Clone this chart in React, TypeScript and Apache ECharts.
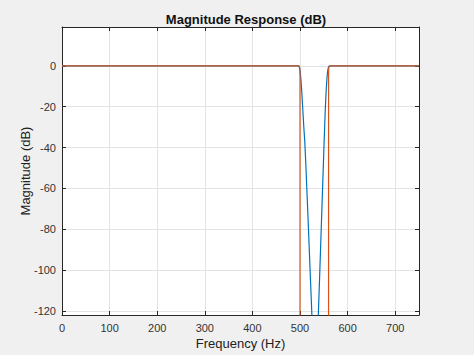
import React, { useEffect, useRef } from "react";
import * as echarts from "echarts";

const titleText = "Magnitude Response (dB)";
const xName = "Frequency (Hz)";
const yName = "Magnitude (dB)";

// Designed filter (blue): [frequency Hz, magnitude dB]
const filterFreq = [0, 490, 497, 499, 500.5, 502, 503.5, 506, 508, 510, 512, 515, 518, 521, 525, 528, 532, 536, 538.5, 542, 546, 550, 553, 555, 557, 558.5, 560, 562, 565, 750];
const filterMag = [0, 0, 0, -1, -3, -7, -12, -22, -30, -37, -47, -64, -81, -99, -122, -140, -150, -140, -122, -98, -70, -42, -22, -12, -5, -2, -0.5, -0.1, 0, 0];

// Ideal response (red)
const idealFreq = [0, 498, 499.5, 500, 500, 560, 560, 560.5, 562, 750];
const idealMag = [0, 0, -1, -4, -300, -300, -4, -1, 0, 0];

const xMin = 0;
const xMax = 750;
const xInterval = 100;
const yMin = -122;
const yMax = 19;

const font = "'Liberation Sans', Arial, Helvetica, sans-serif";
const axisColor = "#262626";
const textColor = "#333333";
const gridColor = "#e3e3e3";

export default function App() {
  const ref = useRef<HTMLDivElement>(null);
  useEffect(() => {
    if (!ref.current) return;
    const chart = echarts.init(ref.current, undefined, { renderer: "svg" });
    const blue = filterFreq.map((f, i) => [f, filterMag[i]]);
    const red = idealFreq.map((f, i) => [f, idealMag[i]]);
    const commonX = {
      type: "value" as const,
      min: xMin,
      max: xMax,
      interval: xInterval,
      axisLine: { show: true, onZero: false, lineStyle: { color: axisColor, width: 1 } },
      axisTick: { show: true, inside: true, length: 4, lineStyle: { color: axisColor } },
    };
    const commonY = {
      type: "value" as const,
      min: yMin,
      max: yMax,
      splitNumber: 7,
      axisLine: { show: true, onZero: false, lineStyle: { color: axisColor, width: 1 } },
      axisTick: { show: true, inside: true, length: 4, lineStyle: { color: axisColor } },
    };
    chart.setOption({
      animation: false,
      backgroundColor: "#f0f0f0",
      textStyle: { fontFamily: font },
      title: {
        text: titleText,
        left: 241,
        top: 8,
        textAlign: "center",
        textStyle: { fontFamily: font, fontSize: 13, fontWeight: "bold", color: "#111" },
      },
      grid: {
        left: 62,
        right: 55,
        top: 27,
        bottom: 40,
        show: true,
        backgroundColor: "#ffffff",
        borderWidth: 0,
      },
      xAxis: [
        {
          ...commonX,
          position: "bottom",
          name: xName,
          nameLocation: "middle",
          nameGap: 22,
          nameMoveOverlap: false,
          nameTextStyle: { fontFamily: font, fontSize: 13, color: "#222" },
          axisLabel: {
            show: true,
            showMaxLabel: false,
            margin: 7,
            fontFamily: font,
            fontSize: 11,
            color: textColor,
          },
          splitLine: { show: true, lineStyle: { color: gridColor, width: 1 } },
        },
        {
          ...commonX,
          position: "top",
          axisLabel: { show: false },
          splitLine: { show: false },
        },
      ],
      yAxis: [
        {
          ...commonY,
          position: "left",
          name: yName,
          nameLocation: "middle",
          nameGap: 30,
          nameMoveOverlap: false,
          nameTextStyle: { fontFamily: font, fontSize: 13, color: "#222" },
          axisLabel: {
            show: true,
            showMinLabel: false,
            showMaxLabel: false,
            margin: 6,
            fontFamily: font,
            fontSize: 11,
            color: textColor,
          },
          splitLine: { show: true, lineStyle: { color: gridColor, width: 1 } },
        },
        {
          ...commonY,
          position: "right",
          axisLabel: { show: false },
          splitLine: { show: false },
        },
      ],
      series: [
        {
          type: "line",
          data: blue,
          xAxisIndex: 0,
          yAxisIndex: 0,
          showSymbol: false,
          clip: true,
          lineStyle: { color: "#0072BD", width: 1.2 },
          itemStyle: { color: "#0072BD" },
        },
        {
          type: "line",
          data: red,
          xAxisIndex: 0,
          yAxisIndex: 0,
          showSymbol: false,
          clip: true,
          lineStyle: { color: "#D95319", width: 1.2 },
          itemStyle: { color: "#D95319" },
        },
      ],
    });
    return () => chart.dispose();
  }, []);
  return (
    <div
      ref={ref}
      style={{ position: "absolute", left: 0, top: 0, width: 474, height: 355 }}
    />
  );
}
